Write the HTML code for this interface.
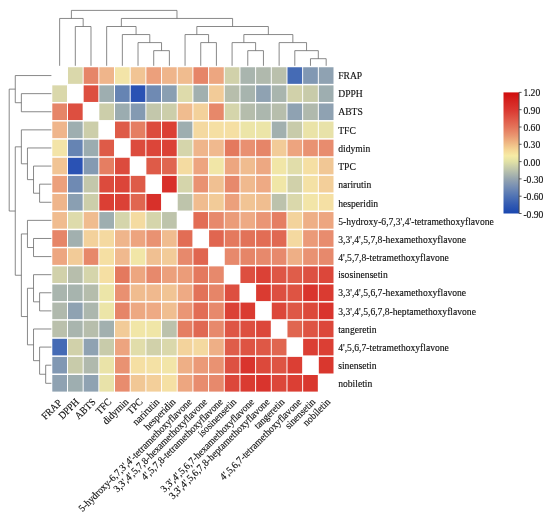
<!DOCTYPE html><html><head><meta charset="utf-8"><title>heatmap</title>
<style>html,body{margin:0;padding:0;background:#fff}svg{display:block}text{font-family:"Liberation Serif",serif;fill:#111;stroke:#111;stroke-width:0.15px}</style></head><body>
<svg width="550" height="518" viewBox="0 0 550 518">
<rect width="550" height="518" fill="#fff"/>
<g shape-rendering="auto">
<rect x="67.98" y="67.25" width="14.68" height="16.60" fill="#dad8ab"/>
<rect x="83.66" y="67.25" width="14.68" height="16.60" fill="#e68568"/>
<rect x="99.33" y="67.25" width="14.68" height="16.60" fill="#efb58b"/>
<rect x="115.01" y="67.25" width="14.68" height="16.60" fill="#f3e4a8"/>
<rect x="130.69" y="67.25" width="14.68" height="16.60" fill="#f1c494"/>
<rect x="146.37" y="67.25" width="14.68" height="16.60" fill="#eca07c"/>
<rect x="162.04" y="67.25" width="14.68" height="16.60" fill="#efb58b"/>
<rect x="177.72" y="67.25" width="14.68" height="16.60" fill="#f0bc8f"/>
<rect x="193.40" y="67.25" width="14.68" height="16.60" fill="#e68568"/>
<rect x="209.08" y="67.25" width="14.68" height="16.60" fill="#eda680"/>
<rect x="224.76" y="67.25" width="14.68" height="16.60" fill="#d1d1aa"/>
<rect x="240.43" y="67.25" width="14.68" height="16.60" fill="#a9b5ae"/>
<rect x="256.11" y="67.25" width="14.68" height="16.60" fill="#b0b9ad"/>
<rect x="271.79" y="67.25" width="14.68" height="16.60" fill="#bac0ac"/>
<rect x="287.47" y="67.25" width="14.68" height="16.60" fill="#456bb5"/>
<rect x="303.14" y="67.25" width="14.68" height="16.60" fill="#8198b3"/>
<rect x="318.82" y="67.25" width="14.68" height="16.60" fill="#8fa2b2"/>
<rect x="52.30" y="85.35" width="14.68" height="16.60" fill="#dad8ab"/>
<rect x="83.66" y="85.35" width="14.68" height="16.60" fill="#dd4f40"/>
<rect x="99.33" y="85.35" width="14.68" height="16.60" fill="#9eaeb0"/>
<rect x="115.01" y="85.35" width="14.68" height="16.60" fill="#6684b3"/>
<rect x="130.69" y="85.35" width="14.68" height="16.60" fill="#2a52b4"/>
<rect x="146.37" y="85.35" width="14.68" height="16.60" fill="#6f8ab3"/>
<rect x="162.04" y="85.35" width="14.68" height="16.60" fill="#8a9fb2"/>
<rect x="177.72" y="85.35" width="14.68" height="16.60" fill="#dedbab"/>
<rect x="193.40" y="85.35" width="14.68" height="16.60" fill="#a2b0af"/>
<rect x="209.08" y="85.35" width="14.68" height="16.60" fill="#f2cb98"/>
<rect x="224.76" y="85.35" width="14.68" height="16.60" fill="#b7beac"/>
<rect x="240.43" y="85.35" width="14.68" height="16.60" fill="#a7b4ae"/>
<rect x="256.11" y="85.35" width="14.68" height="16.60" fill="#8fa2b2"/>
<rect x="271.79" y="85.35" width="14.68" height="16.60" fill="#a9b5ae"/>
<rect x="287.47" y="85.35" width="14.68" height="16.60" fill="#d1d1aa"/>
<rect x="303.14" y="85.35" width="14.68" height="16.60" fill="#c8cbaa"/>
<rect x="318.82" y="85.35" width="14.68" height="16.60" fill="#9eaeb0"/>
<rect x="52.30" y="103.46" width="14.68" height="16.60" fill="#e68568"/>
<rect x="67.98" y="103.46" width="14.68" height="16.60" fill="#dd4f40"/>
<rect x="99.33" y="103.46" width="14.68" height="16.60" fill="#ccceaa"/>
<rect x="115.01" y="103.46" width="14.68" height="16.60" fill="#9bacb0"/>
<rect x="130.69" y="103.46" width="14.68" height="16.60" fill="#849ab2"/>
<rect x="146.37" y="103.46" width="14.68" height="16.60" fill="#c3c7ab"/>
<rect x="162.04" y="103.46" width="14.68" height="16.60" fill="#ccceaa"/>
<rect x="177.72" y="103.46" width="14.68" height="16.60" fill="#f0bc8f"/>
<rect x="193.40" y="103.46" width="14.68" height="16.60" fill="#f3d19b"/>
<rect x="209.08" y="103.46" width="14.68" height="16.60" fill="#e7886a"/>
<rect x="224.76" y="103.46" width="14.68" height="16.60" fill="#d5d5ab"/>
<rect x="240.43" y="103.46" width="14.68" height="16.60" fill="#b5bdac"/>
<rect x="256.11" y="103.46" width="14.68" height="16.60" fill="#acb7ae"/>
<rect x="271.79" y="103.46" width="14.68" height="16.60" fill="#b7beac"/>
<rect x="287.47" y="103.46" width="14.68" height="16.60" fill="#8fa2b2"/>
<rect x="303.14" y="103.46" width="14.68" height="16.60" fill="#b0b9ad"/>
<rect x="318.82" y="103.46" width="14.68" height="16.60" fill="#8fa2b2"/>
<rect x="52.30" y="121.56" width="14.68" height="16.60" fill="#efb58b"/>
<rect x="67.98" y="121.56" width="14.68" height="16.60" fill="#9eaeb0"/>
<rect x="83.66" y="121.56" width="14.68" height="16.60" fill="#ccceaa"/>
<rect x="115.01" y="121.56" width="14.68" height="16.60" fill="#de5b48"/>
<rect x="130.69" y="121.56" width="14.68" height="16.60" fill="#e57e62"/>
<rect x="146.37" y="121.56" width="14.68" height="16.60" fill="#dc4b3d"/>
<rect x="162.04" y="121.56" width="14.68" height="16.60" fill="#db3f34"/>
<rect x="177.72" y="121.56" width="14.68" height="16.60" fill="#9eaeb0"/>
<rect x="193.40" y="121.56" width="14.68" height="16.60" fill="#f4d9a0"/>
<rect x="209.08" y="121.56" width="14.68" height="16.60" fill="#f5dfa3"/>
<rect x="224.76" y="121.56" width="14.68" height="16.60" fill="#f5dfa3"/>
<rect x="240.43" y="121.56" width="14.68" height="16.60" fill="#ece5a8"/>
<rect x="256.11" y="121.56" width="14.68" height="16.60" fill="#ece5a8"/>
<rect x="271.79" y="121.56" width="14.68" height="16.60" fill="#a2b0af"/>
<rect x="287.47" y="121.56" width="14.68" height="16.60" fill="#c8cbaa"/>
<rect x="303.14" y="121.56" width="14.68" height="16.60" fill="#eae3a8"/>
<rect x="318.82" y="121.56" width="14.68" height="16.60" fill="#e8e2a9"/>
<rect x="52.30" y="139.66" width="14.68" height="16.60" fill="#f3e4a8"/>
<rect x="67.98" y="139.66" width="14.68" height="16.60" fill="#6684b3"/>
<rect x="83.66" y="139.66" width="14.68" height="16.60" fill="#9bacb0"/>
<rect x="99.33" y="139.66" width="14.68" height="16.60" fill="#de5b48"/>
<rect x="130.69" y="139.66" width="14.68" height="16.60" fill="#dc4b3d"/>
<rect x="146.37" y="139.66" width="14.68" height="16.60" fill="#dc4539"/>
<rect x="162.04" y="139.66" width="14.68" height="16.60" fill="#db4136"/>
<rect x="177.72" y="139.66" width="14.68" height="16.60" fill="#d5d5ab"/>
<rect x="193.40" y="139.66" width="14.68" height="16.60" fill="#efb58b"/>
<rect x="209.08" y="139.66" width="14.68" height="16.60" fill="#f0b98e"/>
<rect x="224.76" y="139.66" width="14.68" height="16.60" fill="#e4795e"/>
<rect x="240.43" y="139.66" width="14.68" height="16.60" fill="#e99071"/>
<rect x="256.11" y="139.66" width="14.68" height="16.60" fill="#e68568"/>
<rect x="271.79" y="139.66" width="14.68" height="16.60" fill="#f2cb98"/>
<rect x="287.47" y="139.66" width="14.68" height="16.60" fill="#eda47f"/>
<rect x="303.14" y="139.66" width="14.68" height="16.60" fill="#e99272"/>
<rect x="318.82" y="139.66" width="14.68" height="16.60" fill="#e88c6e"/>
<rect x="52.30" y="157.76" width="14.68" height="16.60" fill="#f1c494"/>
<rect x="67.98" y="157.76" width="14.68" height="16.60" fill="#2a52b4"/>
<rect x="83.66" y="157.76" width="14.68" height="16.60" fill="#849ab2"/>
<rect x="99.33" y="157.76" width="14.68" height="16.60" fill="#e57e62"/>
<rect x="115.01" y="157.76" width="14.68" height="16.60" fill="#dc4b3d"/>
<rect x="146.37" y="157.76" width="14.68" height="16.60" fill="#de5b48"/>
<rect x="162.04" y="157.76" width="14.68" height="16.60" fill="#e06650"/>
<rect x="177.72" y="157.76" width="14.68" height="16.60" fill="#f4dba1"/>
<rect x="193.40" y="157.76" width="14.68" height="16.60" fill="#eda47f"/>
<rect x="209.08" y="157.76" width="14.68" height="16.60" fill="#f1e6a7"/>
<rect x="224.76" y="157.76" width="14.68" height="16.60" fill="#eda680"/>
<rect x="240.43" y="157.76" width="14.68" height="16.60" fill="#f0bc8f"/>
<rect x="256.11" y="157.76" width="14.68" height="16.60" fill="#eda882"/>
<rect x="271.79" y="157.76" width="14.68" height="16.60" fill="#f1e6a7"/>
<rect x="287.47" y="157.76" width="14.68" height="16.60" fill="#e1ddaa"/>
<rect x="303.14" y="157.76" width="14.68" height="16.60" fill="#f5dfa3"/>
<rect x="318.82" y="157.76" width="14.68" height="16.60" fill="#f1c795"/>
<rect x="52.30" y="175.87" width="14.68" height="16.60" fill="#eca07c"/>
<rect x="67.98" y="175.87" width="14.68" height="16.60" fill="#6f8ab3"/>
<rect x="83.66" y="175.87" width="14.68" height="16.60" fill="#c3c7ab"/>
<rect x="99.33" y="175.87" width="14.68" height="16.60" fill="#dc4b3d"/>
<rect x="115.01" y="175.87" width="14.68" height="16.60" fill="#dc4539"/>
<rect x="130.69" y="175.87" width="14.68" height="16.60" fill="#de5b48"/>
<rect x="162.04" y="175.87" width="14.68" height="16.60" fill="#d8302a"/>
<rect x="177.72" y="175.87" width="14.68" height="16.60" fill="#d5d5ab"/>
<rect x="193.40" y="175.87" width="14.68" height="16.60" fill="#e99272"/>
<rect x="209.08" y="175.87" width="14.68" height="16.60" fill="#f0c092"/>
<rect x="224.76" y="175.87" width="14.68" height="16.60" fill="#e7896c"/>
<rect x="240.43" y="175.87" width="14.68" height="16.60" fill="#f0b98e"/>
<rect x="256.11" y="175.87" width="14.68" height="16.60" fill="#eeaa84"/>
<rect x="271.79" y="175.87" width="14.68" height="16.60" fill="#f0e6a7"/>
<rect x="287.47" y="175.87" width="14.68" height="16.60" fill="#d1d1aa"/>
<rect x="303.14" y="175.87" width="14.68" height="16.60" fill="#f4e1a5"/>
<rect x="318.82" y="175.87" width="14.68" height="16.60" fill="#f3cf9a"/>
<rect x="52.30" y="193.97" width="14.68" height="16.60" fill="#efb58b"/>
<rect x="67.98" y="193.97" width="14.68" height="16.60" fill="#8a9fb2"/>
<rect x="83.66" y="193.97" width="14.68" height="16.60" fill="#ccceaa"/>
<rect x="99.33" y="193.97" width="14.68" height="16.60" fill="#db3f34"/>
<rect x="115.01" y="193.97" width="14.68" height="16.60" fill="#db4136"/>
<rect x="130.69" y="193.97" width="14.68" height="16.60" fill="#e06650"/>
<rect x="146.37" y="193.97" width="14.68" height="16.60" fill="#d8302a"/>
<rect x="177.72" y="193.97" width="14.68" height="16.60" fill="#bec4ab"/>
<rect x="193.40" y="193.97" width="14.68" height="16.60" fill="#f0bc8f"/>
<rect x="209.08" y="193.97" width="14.68" height="16.60" fill="#f2cb98"/>
<rect x="224.76" y="193.97" width="14.68" height="16.60" fill="#eca07c"/>
<rect x="240.43" y="193.97" width="14.68" height="16.60" fill="#f1c494"/>
<rect x="256.11" y="193.97" width="14.68" height="16.60" fill="#f0be90"/>
<rect x="271.79" y="193.97" width="14.68" height="16.60" fill="#bcc2ac"/>
<rect x="287.47" y="193.97" width="14.68" height="16.60" fill="#dad8ab"/>
<rect x="303.14" y="193.97" width="14.68" height="16.60" fill="#f2e5a8"/>
<rect x="318.82" y="193.97" width="14.68" height="16.60" fill="#f5e0a4"/>
<rect x="52.30" y="212.07" width="14.68" height="16.60" fill="#f0bc8f"/>
<rect x="67.98" y="212.07" width="14.68" height="16.60" fill="#dedbab"/>
<rect x="83.66" y="212.07" width="14.68" height="16.60" fill="#f0bc8f"/>
<rect x="99.33" y="212.07" width="14.68" height="16.60" fill="#9eaeb0"/>
<rect x="115.01" y="212.07" width="14.68" height="16.60" fill="#d5d5ab"/>
<rect x="130.69" y="212.07" width="14.68" height="16.60" fill="#f4dba1"/>
<rect x="146.37" y="212.07" width="14.68" height="16.60" fill="#d5d5ab"/>
<rect x="162.04" y="212.07" width="14.68" height="16.60" fill="#bec4ab"/>
<rect x="193.40" y="212.07" width="14.68" height="16.60" fill="#e26d55"/>
<rect x="209.08" y="212.07" width="14.68" height="16.60" fill="#e7896c"/>
<rect x="224.76" y="212.07" width="14.68" height="16.60" fill="#eb9c79"/>
<rect x="240.43" y="212.07" width="14.68" height="16.60" fill="#eeaa84"/>
<rect x="256.11" y="212.07" width="14.68" height="16.60" fill="#ea9675"/>
<rect x="271.79" y="212.07" width="14.68" height="16.60" fill="#e57e62"/>
<rect x="287.47" y="212.07" width="14.68" height="16.60" fill="#f3d39c"/>
<rect x="303.14" y="212.07" width="14.68" height="16.60" fill="#eeaf86"/>
<rect x="318.82" y="212.07" width="14.68" height="16.60" fill="#eda680"/>
<rect x="52.30" y="230.18" width="14.68" height="16.60" fill="#e68568"/>
<rect x="67.98" y="230.18" width="14.68" height="16.60" fill="#a2b0af"/>
<rect x="83.66" y="230.18" width="14.68" height="16.60" fill="#f3d19b"/>
<rect x="99.33" y="230.18" width="14.68" height="16.60" fill="#f4d9a0"/>
<rect x="115.01" y="230.18" width="14.68" height="16.60" fill="#efb58b"/>
<rect x="130.69" y="230.18" width="14.68" height="16.60" fill="#eda47f"/>
<rect x="146.37" y="230.18" width="14.68" height="16.60" fill="#e99272"/>
<rect x="162.04" y="230.18" width="14.68" height="16.60" fill="#f0bc8f"/>
<rect x="177.72" y="230.18" width="14.68" height="16.60" fill="#e26d55"/>
<rect x="209.08" y="230.18" width="14.68" height="16.60" fill="#e06650"/>
<rect x="224.76" y="230.18" width="14.68" height="16.60" fill="#e4795e"/>
<rect x="240.43" y="230.18" width="14.68" height="16.60" fill="#e27259"/>
<rect x="256.11" y="230.18" width="14.68" height="16.60" fill="#e26d55"/>
<rect x="271.79" y="230.18" width="14.68" height="16.60" fill="#e06852"/>
<rect x="287.47" y="230.18" width="14.68" height="16.60" fill="#f4d9a0"/>
<rect x="303.14" y="230.18" width="14.68" height="16.60" fill="#eb9a78"/>
<rect x="318.82" y="230.18" width="14.68" height="16.60" fill="#e88c6e"/>
<rect x="52.30" y="248.28" width="14.68" height="16.60" fill="#eda680"/>
<rect x="67.98" y="248.28" width="14.68" height="16.60" fill="#f2cb98"/>
<rect x="83.66" y="248.28" width="14.68" height="16.60" fill="#e7886a"/>
<rect x="99.33" y="248.28" width="14.68" height="16.60" fill="#f5dfa3"/>
<rect x="115.01" y="248.28" width="14.68" height="16.60" fill="#f0b98e"/>
<rect x="130.69" y="248.28" width="14.68" height="16.60" fill="#f1e6a7"/>
<rect x="146.37" y="248.28" width="14.68" height="16.60" fill="#f0c092"/>
<rect x="162.04" y="248.28" width="14.68" height="16.60" fill="#f2cb98"/>
<rect x="177.72" y="248.28" width="14.68" height="16.60" fill="#e7896c"/>
<rect x="193.40" y="248.28" width="14.68" height="16.60" fill="#e06650"/>
<rect x="224.76" y="248.28" width="14.68" height="16.60" fill="#e7896c"/>
<rect x="240.43" y="248.28" width="14.68" height="16.60" fill="#e68568"/>
<rect x="256.11" y="248.28" width="14.68" height="16.60" fill="#e7896c"/>
<rect x="271.79" y="248.28" width="14.68" height="16.60" fill="#e7896c"/>
<rect x="287.47" y="248.28" width="14.68" height="16.60" fill="#eeaf86"/>
<rect x="303.14" y="248.28" width="14.68" height="16.60" fill="#e99272"/>
<rect x="318.82" y="248.28" width="14.68" height="16.60" fill="#e7896c"/>
<rect x="52.30" y="266.38" width="14.68" height="16.60" fill="#d1d1aa"/>
<rect x="67.98" y="266.38" width="14.68" height="16.60" fill="#b7beac"/>
<rect x="83.66" y="266.38" width="14.68" height="16.60" fill="#d5d5ab"/>
<rect x="99.33" y="266.38" width="14.68" height="16.60" fill="#f5dfa3"/>
<rect x="115.01" y="266.38" width="14.68" height="16.60" fill="#e4795e"/>
<rect x="130.69" y="266.38" width="14.68" height="16.60" fill="#eda680"/>
<rect x="146.37" y="266.38" width="14.68" height="16.60" fill="#e7896c"/>
<rect x="162.04" y="266.38" width="14.68" height="16.60" fill="#eca07c"/>
<rect x="177.72" y="266.38" width="14.68" height="16.60" fill="#eb9c79"/>
<rect x="193.40" y="266.38" width="14.68" height="16.60" fill="#e4795e"/>
<rect x="209.08" y="266.38" width="14.68" height="16.60" fill="#e7896c"/>
<rect x="240.43" y="266.38" width="14.68" height="16.60" fill="#dd4f40"/>
<rect x="256.11" y="266.38" width="14.68" height="16.60" fill="#db4136"/>
<rect x="271.79" y="266.38" width="14.68" height="16.60" fill="#de5645"/>
<rect x="287.47" y="266.38" width="14.68" height="16.60" fill="#df5d4a"/>
<rect x="303.14" y="266.38" width="14.68" height="16.60" fill="#dd5142"/>
<rect x="318.82" y="266.38" width="14.68" height="16.60" fill="#dc473a"/>
<rect x="52.30" y="284.48" width="14.68" height="16.60" fill="#a9b5ae"/>
<rect x="67.98" y="284.48" width="14.68" height="16.60" fill="#a7b4ae"/>
<rect x="83.66" y="284.48" width="14.68" height="16.60" fill="#b5bdac"/>
<rect x="99.33" y="284.48" width="14.68" height="16.60" fill="#ece5a8"/>
<rect x="115.01" y="284.48" width="14.68" height="16.60" fill="#e99071"/>
<rect x="130.69" y="284.48" width="14.68" height="16.60" fill="#f0bc8f"/>
<rect x="146.37" y="284.48" width="14.68" height="16.60" fill="#f0b98e"/>
<rect x="162.04" y="284.48" width="14.68" height="16.60" fill="#f1c494"/>
<rect x="177.72" y="284.48" width="14.68" height="16.60" fill="#eeaa84"/>
<rect x="193.40" y="284.48" width="14.68" height="16.60" fill="#e27259"/>
<rect x="209.08" y="284.48" width="14.68" height="16.60" fill="#e68568"/>
<rect x="224.76" y="284.48" width="14.68" height="16.60" fill="#dd4f40"/>
<rect x="256.11" y="284.48" width="14.68" height="16.60" fill="#da3b31"/>
<rect x="271.79" y="284.48" width="14.68" height="16.60" fill="#dd4f40"/>
<rect x="287.47" y="284.48" width="14.68" height="16.60" fill="#de5443"/>
<rect x="303.14" y="284.48" width="14.68" height="16.60" fill="#d9342d"/>
<rect x="318.82" y="284.48" width="14.68" height="16.60" fill="#da3b31"/>
<rect x="52.30" y="302.59" width="14.68" height="16.60" fill="#b0b9ad"/>
<rect x="67.98" y="302.59" width="14.68" height="16.60" fill="#8fa2b2"/>
<rect x="83.66" y="302.59" width="14.68" height="16.60" fill="#acb7ae"/>
<rect x="99.33" y="302.59" width="14.68" height="16.60" fill="#ece5a8"/>
<rect x="115.01" y="302.59" width="14.68" height="16.60" fill="#e68568"/>
<rect x="130.69" y="302.59" width="14.68" height="16.60" fill="#eda882"/>
<rect x="146.37" y="302.59" width="14.68" height="16.60" fill="#eeaa84"/>
<rect x="162.04" y="302.59" width="14.68" height="16.60" fill="#f0be90"/>
<rect x="177.72" y="302.59" width="14.68" height="16.60" fill="#ea9675"/>
<rect x="193.40" y="302.59" width="14.68" height="16.60" fill="#e26d55"/>
<rect x="209.08" y="302.59" width="14.68" height="16.60" fill="#e7896c"/>
<rect x="224.76" y="302.59" width="14.68" height="16.60" fill="#db4136"/>
<rect x="240.43" y="302.59" width="14.68" height="16.60" fill="#da3b31"/>
<rect x="271.79" y="302.59" width="14.68" height="16.60" fill="#dc473a"/>
<rect x="287.47" y="302.59" width="14.68" height="16.60" fill="#de5846"/>
<rect x="303.14" y="302.59" width="14.68" height="16.60" fill="#dc493b"/>
<rect x="318.82" y="302.59" width="14.68" height="16.60" fill="#d9342d"/>
<rect x="52.30" y="320.69" width="14.68" height="16.60" fill="#bac0ac"/>
<rect x="67.98" y="320.69" width="14.68" height="16.60" fill="#a9b5ae"/>
<rect x="83.66" y="320.69" width="14.68" height="16.60" fill="#b7beac"/>
<rect x="99.33" y="320.69" width="14.68" height="16.60" fill="#a2b0af"/>
<rect x="115.01" y="320.69" width="14.68" height="16.60" fill="#f2cb98"/>
<rect x="130.69" y="320.69" width="14.68" height="16.60" fill="#f1e6a7"/>
<rect x="146.37" y="320.69" width="14.68" height="16.60" fill="#f0e6a7"/>
<rect x="162.04" y="320.69" width="14.68" height="16.60" fill="#bcc2ac"/>
<rect x="177.72" y="320.69" width="14.68" height="16.60" fill="#e57e62"/>
<rect x="193.40" y="320.69" width="14.68" height="16.60" fill="#e06852"/>
<rect x="209.08" y="320.69" width="14.68" height="16.60" fill="#e7896c"/>
<rect x="224.76" y="320.69" width="14.68" height="16.60" fill="#de5645"/>
<rect x="240.43" y="320.69" width="14.68" height="16.60" fill="#dd4f40"/>
<rect x="256.11" y="320.69" width="14.68" height="16.60" fill="#dc473a"/>
<rect x="287.47" y="320.69" width="14.68" height="16.60" fill="#e06650"/>
<rect x="303.14" y="320.69" width="14.68" height="16.60" fill="#de5443"/>
<rect x="318.82" y="320.69" width="14.68" height="16.60" fill="#dc473a"/>
<rect x="52.30" y="338.79" width="14.68" height="16.60" fill="#456bb5"/>
<rect x="67.98" y="338.79" width="14.68" height="16.60" fill="#d1d1aa"/>
<rect x="83.66" y="338.79" width="14.68" height="16.60" fill="#8fa2b2"/>
<rect x="99.33" y="338.79" width="14.68" height="16.60" fill="#c8cbaa"/>
<rect x="115.01" y="338.79" width="14.68" height="16.60" fill="#eda47f"/>
<rect x="130.69" y="338.79" width="14.68" height="16.60" fill="#e1ddaa"/>
<rect x="146.37" y="338.79" width="14.68" height="16.60" fill="#d1d1aa"/>
<rect x="162.04" y="338.79" width="14.68" height="16.60" fill="#dad8ab"/>
<rect x="177.72" y="338.79" width="14.68" height="16.60" fill="#f3d39c"/>
<rect x="193.40" y="338.79" width="14.68" height="16.60" fill="#f4d9a0"/>
<rect x="209.08" y="338.79" width="14.68" height="16.60" fill="#eeaf86"/>
<rect x="224.76" y="338.79" width="14.68" height="16.60" fill="#df5d4a"/>
<rect x="240.43" y="338.79" width="14.68" height="16.60" fill="#de5443"/>
<rect x="256.11" y="338.79" width="14.68" height="16.60" fill="#de5846"/>
<rect x="271.79" y="338.79" width="14.68" height="16.60" fill="#e06650"/>
<rect x="303.14" y="338.79" width="14.68" height="16.60" fill="#db3f34"/>
<rect x="318.82" y="338.79" width="14.68" height="16.60" fill="#db3f34"/>
<rect x="52.30" y="356.89" width="14.68" height="16.60" fill="#8198b3"/>
<rect x="67.98" y="356.89" width="14.68" height="16.60" fill="#c8cbaa"/>
<rect x="83.66" y="356.89" width="14.68" height="16.60" fill="#b0b9ad"/>
<rect x="99.33" y="356.89" width="14.68" height="16.60" fill="#eae3a8"/>
<rect x="115.01" y="356.89" width="14.68" height="16.60" fill="#e99272"/>
<rect x="130.69" y="356.89" width="14.68" height="16.60" fill="#f5dfa3"/>
<rect x="146.37" y="356.89" width="14.68" height="16.60" fill="#f4e1a5"/>
<rect x="162.04" y="356.89" width="14.68" height="16.60" fill="#f2e5a8"/>
<rect x="177.72" y="356.89" width="14.68" height="16.60" fill="#eeaf86"/>
<rect x="193.40" y="356.89" width="14.68" height="16.60" fill="#eb9a78"/>
<rect x="209.08" y="356.89" width="14.68" height="16.60" fill="#e99272"/>
<rect x="224.76" y="356.89" width="14.68" height="16.60" fill="#dd5142"/>
<rect x="240.43" y="356.89" width="14.68" height="16.60" fill="#d9342d"/>
<rect x="256.11" y="356.89" width="14.68" height="16.60" fill="#dc493b"/>
<rect x="271.79" y="356.89" width="14.68" height="16.60" fill="#de5443"/>
<rect x="287.47" y="356.89" width="14.68" height="16.60" fill="#db3f34"/>
<rect x="318.82" y="356.89" width="14.68" height="16.60" fill="#d9372e"/>
<rect x="52.30" y="375.00" width="14.68" height="16.60" fill="#8fa2b2"/>
<rect x="67.98" y="375.00" width="14.68" height="16.60" fill="#9eaeb0"/>
<rect x="83.66" y="375.00" width="14.68" height="16.60" fill="#8fa2b2"/>
<rect x="99.33" y="375.00" width="14.68" height="16.60" fill="#e8e2a9"/>
<rect x="115.01" y="375.00" width="14.68" height="16.60" fill="#e88c6e"/>
<rect x="130.69" y="375.00" width="14.68" height="16.60" fill="#f1c795"/>
<rect x="146.37" y="375.00" width="14.68" height="16.60" fill="#f3cf9a"/>
<rect x="162.04" y="375.00" width="14.68" height="16.60" fill="#f5e0a4"/>
<rect x="177.72" y="375.00" width="14.68" height="16.60" fill="#eda680"/>
<rect x="193.40" y="375.00" width="14.68" height="16.60" fill="#e88c6e"/>
<rect x="209.08" y="375.00" width="14.68" height="16.60" fill="#e7896c"/>
<rect x="224.76" y="375.00" width="14.68" height="16.60" fill="#dc473a"/>
<rect x="240.43" y="375.00" width="14.68" height="16.60" fill="#da3b31"/>
<rect x="256.11" y="375.00" width="14.68" height="16.60" fill="#d9342d"/>
<rect x="271.79" y="375.00" width="14.68" height="16.60" fill="#dc473a"/>
<rect x="287.47" y="375.00" width="14.68" height="16.60" fill="#db3f34"/>
<rect x="303.14" y="375.00" width="14.68" height="16.60" fill="#d9372e"/>
</g>
<path d="M75.32 65.80V26.50H90.99V65.80M59.64 65.80V18.45H83.16V26.50M153.71 65.80V50.65H169.38V65.80M138.03 65.80V42.60H161.54V50.65M122.35 65.80V34.55H149.79V42.60M106.67 65.80V26.50H136.07V34.55M200.74 65.80V42.60H216.42V65.80M185.06 65.80V34.55H208.58V42.60M247.77 65.80V50.65H263.45V65.80M232.09 65.80V42.60H255.61V50.65M310.48 65.80V58.70H326.16V65.80M294.81 65.80V50.65H318.32V58.70M279.13 65.80V42.60H306.56V50.65M243.85 42.60V34.55H292.85V42.60M196.82 34.55V26.50H268.35V34.55M121.37 26.50V18.45H232.58V26.50M71.40 18.45V10.40H176.98V18.45" fill="none" stroke="#6b6b6b" stroke-width="0.8"/>
<path d="M51.40 93.65H21.36V111.76H51.40M51.40 75.55H15.28V102.71H21.36M51.40 184.17H39.60V202.27H51.40M51.40 166.07H33.52V193.22H39.60M51.40 147.96H27.44V179.64H33.52M51.40 129.86H21.36V163.80H27.44M51.40 238.48H33.52V256.58H51.40M51.40 220.37H27.44V247.53H33.52M51.40 292.78H39.60V310.89H51.40M51.40 274.68H33.52V301.84H39.60M51.40 365.20H45.68V383.30H51.40M51.40 347.09H39.60V374.25H45.68M51.40 328.99H33.52V360.67H39.60M33.52 288.26H27.44V344.83H33.52M27.44 233.95H21.36V316.54H27.44M21.36 146.83H15.28V275.25H21.36M15.28 89.13H9.20V211.04H15.28" fill="none" stroke="#6b6b6b" stroke-width="0.8"/>
<g font-size="10.2">
<text transform="translate(338.2,79.25) scale(0.942,1)">FRAP</text>
<text transform="translate(338.2,97.35) scale(0.942,1)">DPPH</text>
<text transform="translate(338.2,115.46) scale(0.942,1)">ABTS</text>
<text transform="translate(338.2,133.56) scale(0.942,1)">TFC</text>
<text transform="translate(338.2,151.66) scale(0.942,1)">didymin</text>
<text transform="translate(338.2,169.77) scale(0.942,1)">TPC</text>
<text transform="translate(338.2,187.87) scale(0.942,1)">narirutin</text>
<text transform="translate(338.2,206.77) scale(0.942,1)">hesperidin</text>
<text transform="translate(338.2,225.07) scale(0.942,1)">5-hydroxy-6,7,3&#39;,4&#39;-tetramethoxyflavone</text>
<text transform="translate(338.2,242.88) scale(0.942,1)">3,3&#39;,4&#39;,5,7,8-hexamethoxyflavone</text>
<text transform="translate(338.2,260.58) scale(0.942,1)">4&#39;,5,7,8-tetramethoxyflavone</text>
<text transform="translate(338.2,278.38) scale(0.942,1)">isosinensetin</text>
<text transform="translate(338.2,296.48) scale(0.942,1)">3,3&#39;,4&#39;,5,6,7-hexamethoxyflavone</text>
<text transform="translate(338.2,314.59) scale(0.942,1)">3,3&#39;,4&#39;,5,6,7,8-heptamethoxyflavone</text>
<text transform="translate(338.2,332.69) scale(0.942,1)">tangeretin</text>
<text transform="translate(338.2,350.79) scale(0.942,1)">4&#39;,5,6,7-tetramethoxyflavone</text>
<text transform="translate(338.2,368.90) scale(0.942,1)">sinensetin</text>
<text transform="translate(338.2,387.00) scale(0.942,1)">nobiletin</text>
</g>
<g font-size="10.2" text-anchor="end">
<text transform="translate(62.44,403.40) rotate(-45) scale(0.94,1)">FRAP</text>
<text transform="translate(79.72,402.50) rotate(-45) scale(0.94,1)">DPPH</text>
<text transform="translate(96.19,402.50) rotate(-45) scale(0.94,1)">ABTS</text>
<text transform="translate(112.07,402.50) rotate(-45) scale(0.94,1)">TFC</text>
<text transform="translate(129.05,402.50) rotate(-45) scale(0.94,1)">didymin</text>
<text transform="translate(143.23,402.50) rotate(-45) scale(0.94,1)">TPC</text>
<text transform="translate(159.91,402.50) rotate(-45) scale(0.94,1)">narirutin</text>
<text transform="translate(176.18,402.50) rotate(-45) scale(0.94,1)">hesperidin</text>
<text transform="translate(192.46,402.50) rotate(-45) scale(0.94,1)">5-hydroxy-6,7,3&#39;,4&#39;-tetramethoxyflavone</text>
<text transform="translate(207.84,402.50) rotate(-45) scale(0.94,1)">3,3&#39;,4&#39;,5,7,8-hexamethoxyflavone</text>
<text transform="translate(223.52,402.50) rotate(-45) scale(0.94,1)">4&#39;,5,7,8-tetramethoxyflavone</text>
<text transform="translate(236.99,402.50) rotate(-45) scale(0.94,1)">isosinensetin</text>
<text transform="translate(254.87,402.50) rotate(-45) scale(0.94,1)">3,3&#39;,4&#39;,5,6,7-hexamethoxyflavone</text>
<text transform="translate(270.25,402.50) rotate(-45) scale(0.94,1)">3,3&#39;,4&#39;,5,6,7,8-heptamethoxyflavone</text>
<text transform="translate(285.13,402.50) rotate(-45) scale(0.94,1)">tangeretin</text>
<text transform="translate(302.01,402.50) rotate(-45) scale(0.94,1)">4&#39;,5,6,7-tetramethoxyflavone</text>
<text transform="translate(315.98,402.50) rotate(-45) scale(0.94,1)">sinensetin</text>
<text transform="translate(330.86,402.50) rotate(-45) scale(0.94,1)">nobiletin</text>
</g>
<defs><linearGradient id="cb" x1="0" y1="0" x2="0" y2="1"><stop offset="0.0000" stop-color="#d00c0c"/><stop offset="0.0714" stop-color="#d52320"/><stop offset="0.1429" stop-color="#da3730"/><stop offset="0.2143" stop-color="#df5545"/><stop offset="0.2857" stop-color="#e4735a"/><stop offset="0.3571" stop-color="#e99670"/><stop offset="0.4286" stop-color="#f0be87"/><stop offset="0.4762" stop-color="#f5d796"/><stop offset="0.5238" stop-color="#f6eba5"/><stop offset="0.5714" stop-color="#e1e1a5"/><stop offset="0.6190" stop-color="#c8cdaa"/><stop offset="0.7143" stop-color="#96a5af"/><stop offset="0.7857" stop-color="#738cb4"/><stop offset="0.8571" stop-color="#5073b4"/><stop offset="0.9286" stop-color="#325ab2"/><stop offset="1.0000" stop-color="#1946af"/></linearGradient></defs>
<rect x="503.50" y="92.40" width="15.60" height="121.10" fill="url(#cb)"/>
<path d="M519.10 92.40V213.50M519.10 92.40h2.5M519.10 109.70h2.5M519.10 127.00h2.5M519.10 144.30h2.5M519.10 161.60h2.5M519.10 178.90h2.5M519.10 196.20h2.5M519.10 213.50h2.5" fill="none" stroke="#444" stroke-width="0.9"/>
<g font-size="10.2">
<text transform="translate(523.40,96.40) scale(0.942,1)">1.20</text>
<text transform="translate(523.40,113.70) scale(0.942,1)">0.90</text>
<text transform="translate(523.40,131.00) scale(0.942,1)">0.60</text>
<text transform="translate(523.40,148.30) scale(0.942,1)">0.30</text>
<text transform="translate(523.40,165.60) scale(0.942,1)">0.00</text>
<text transform="translate(523.40,182.90) scale(0.942,1)">-0.30</text>
<text transform="translate(523.40,200.20) scale(0.942,1)">-0.60</text>
<text transform="translate(523.40,217.50) scale(0.942,1)">-0.90</text>
</g>
</svg></body></html>
